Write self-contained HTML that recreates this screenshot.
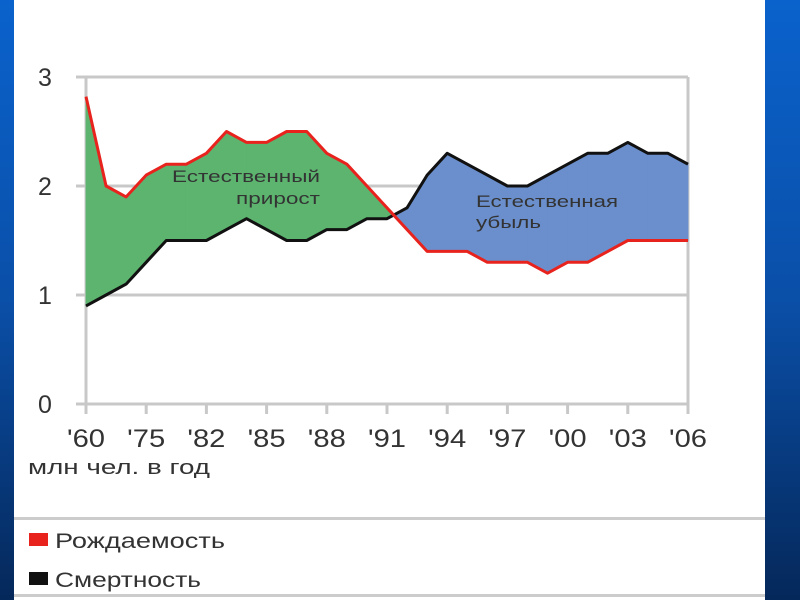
<!DOCTYPE html>
<html><head><meta charset="utf-8"><style>
html,body{margin:0;padding:0}
body{width:800px;height:600px;overflow:hidden;background:linear-gradient(#0a62cc,#0a4fa8 50%,#05285a);font-family:"Liberation Sans","DejaVu Sans",sans-serif}
svg{position:absolute;left:0;top:0}
</style></head><body>
<svg width="800" height="600">
<rect x="14" y="0" width="751" height="600" fill="#fff"/>
<g id="grid"></g><g id="fills"></g><g id="lines"></g><g id="labels"></g>
<text x="172" y="182" font-size="17" fill="#333" textLength="148" lengthAdjust="spacingAndGlyphs">Естественный</text>
<text x="236" y="204" font-size="17" fill="#333" textLength="84" lengthAdjust="spacingAndGlyphs">прирост</text>
<text x="476" y="207" font-size="17" fill="#333" textLength="142" lengthAdjust="spacingAndGlyphs">Естественная</text>
<text x="476" y="228" font-size="17" fill="#333" textLength="65" lengthAdjust="spacingAndGlyphs">убыль</text>
<text x="28" y="474" font-size="20" fill="#333" textLength="182" lengthAdjust="spacingAndGlyphs">млн чел. в год</text>
<rect x="14" y="517" width="751" height="3" fill="#ccc"/>
<rect x="29" y="533" width="19" height="13" fill="#e8231e"/>
<text x="55" y="548" font-size="21" fill="#333" textLength="170" lengthAdjust="spacingAndGlyphs">Рождаемость</text>
<rect x="29" y="572" width="19" height="13" fill="#111"/>
<text x="55" y="587" font-size="21" fill="#333" textLength="146" lengthAdjust="spacingAndGlyphs">Смертность</text>
<rect x="14" y="594" width="751" height="3" fill="#ccc"/>
</svg>
<script>
const tickLabels=["'60","'75","'82","'85","'88","'91","'94","'97","'00","'03","'06"];
const yTicks=[0,1,2,3];
const births=[2.82,2.0,1.9,2.1,2.2,2.2,2.3,2.5,2.4,2.4,2.5,2.5,2.3,2.2,2.0,1.8,1.6,1.4,1.4,1.4,1.3,1.3,1.3,1.2,1.3,1.3,1.4,1.5,1.5,1.5,1.5];
const deaths=[0.9,1.0,1.1,1.3,1.5,1.5,1.5,1.6,1.7,1.6,1.5,1.5,1.6,1.6,1.7,1.7,1.8,2.1,2.3,2.2,2.1,2.0,2.0,2.1,2.2,2.3,2.3,2.4,2.3,2.3,2.2];
const NS='http://www.w3.org/2000/svg';
const X0=86,X1=688,Y0=404,PU=109;
const n=births.length;
const x=i=>X0+(X1-X0)*i/(n-1);
const y=v=>Y0-v*PU;
function mk(t,a,p){const e=document.createElementNS(NS,t);for(const k in a)e.setAttribute(k,a[k]);p.appendChild(e);return e;}
const grid=document.getElementById('grid'),fills=document.getElementById('fills'),lines=document.getElementById('lines'),labels=document.getElementById('labels');
yTicks.forEach(v=>{
 const l=mk('line',{x1:76,x2:X1,y1:y(v),y2:y(v),stroke:'#c8c8c8','stroke-width':3},grid);
 
 
 const t=mk('text',{x:45,y:y(v)+9,'font-size':25,fill:'#333','text-anchor':'middle'},labels);t.textContent=v;
 
 
});
[X0,X1].forEach((xx,k)=>{const l=mk('line',{x1:xx,x2:xx,y1:y(3),y2:Y0+8,stroke:'#c8c8c8','stroke-width':3},grid);
 
 });
tickLabels.forEach((s,i)=>{const xx=X0+(X1-X0)*i/(tickLabels.length-1);
 const tk=mk('line',{x1:xx,x2:xx,y1:Y0,y2:Y0+10,stroke:'#c8c8c8','stroke-width':3},grid);
 
 
 const t=mk('text',{x:xx-19,y:447,'font-size':25,fill:'#333',textLength:38,lengthAdjust:'spacingAndGlyphs'},labels);t.textContent=s;
 
 });
for(let i=0;i<n-1;i++){
 const d0=births[i]-deaths[i],d1=births[i+1]-deaths[i+1];
 const polys=[];
 if(d0*d1<0){const t=d0/(d0-d1);const xc=x(i)+t*(x(i+1)-x(i));const vc=births[i]+t*(births[i+1]-births[i]);
  polys.push([[x(i),y(births[i])],[xc,y(vc)],[x(i),y(deaths[i])],d0]);
  polys.push([[xc,y(vc)],[x(i+1),y(births[i+1])],[x(i+1),y(deaths[i+1])],d1]);
 } else polys.push([[x(i),y(births[i])],[x(i+1),y(births[i+1])],[x(i+1),y(deaths[i+1])],[x(i),y(deaths[i])],d0+d1]);
 polys.forEach(p=>{const s=p.pop();const c=s>=0?'#5cb46f':'#6b8fcc';
  const e=mk('polygon',{points:p.map(q=>q.join(',')).join(' '),fill:c,stroke:c,'stroke-width':0.8},fills);
  
  });
}
[[deaths,'#111','death-line'],[births,'#e8231e','birth-line']].forEach(([arr,c,nm])=>{
 const e=mk('polyline',{points:arr.map((v,i)=>x(i)+','+y(v)).join(' '),fill:'none',stroke:c,'stroke-width':3,'stroke-linejoin':'round'},lines);
 
 });
</script>
</body></html>
